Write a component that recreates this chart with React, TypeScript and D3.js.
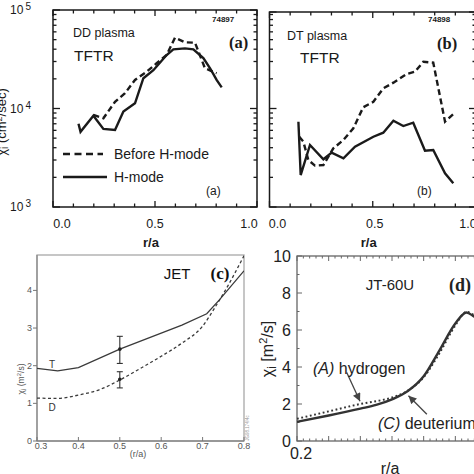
import React from 'react';
import * as d3 from 'd3';

// ---------- Panel (a): TFTR DD plasma (shot 74897) ----------
const aHR = [0.125, 0.135, 0.198, 0.247, 0.304, 0.345, 0.402, 0.443, 0.492, 0.557, 0.59, 0.647, 0.688, 0.737, 0.77, 0.802, 0.827];
const aHChi = [7000, 5800, 8450, 6200, 6050, 9300, 11300, 20300, 24500, 34900, 39800, 40800, 39800, 32500, 25600, 19500, 16400];
const aBR = [0.198, 0.247, 0.304, 0.353, 0.402, 0.459, 0.508, 0.557, 0.598, 0.647, 0.696, 0.745, 0.802];
const aBChi = [8600, 7950, 11700, 14300, 19500, 23600, 28800, 34900, 52400, 47000, 46600, 25600, 22800];

// ---------- Panel (b): TFTR DT plasma (shot 74898) ----------
const bHR = [0.14, 0.151, 0.196, 0.261, 0.301, 0.358, 0.414, 0.503, 0.551, 0.6, 0.648, 0.696, 0.753, 0.793, 0.85, 0.89];
const bHChi = [7340, 2110, 4260, 3050, 3560, 3120, 4090, 5170, 5680, 7510, 6640, 7180, 3730, 3790, 2200, 1740];
const bBR = [0.144, 0.164, 0.188, 0.22, 0.261, 0.309, 0.358, 0.406, 0.454, 0.503, 0.551, 0.6, 0.664, 0.705, 0.745, 0.793, 0.85, 0.89];
const bBChi = [5170, 4600, 3000, 2630, 2670, 3940, 4790, 6300, 10300, 11700, 16000, 18300, 22400, 23650, 29850, 29200, 7350, 8790];

// ---------- Panel (c): JET ----------
const cTR = [0.3, 0.35, 0.4, 0.5, 0.65, 0.71, 0.74, 0.8];
const cTChi = [1.93, 1.86, 1.95, 2.44, 3.08, 3.38, 3.74, 4.52];
const cDR = [0.3, 0.35, 0.4, 0.45, 0.5, 0.55, 0.6, 0.65, 0.7, 0.73, 0.76, 0.8];
const cDChi = [1.14, 1.13, 1.22, 1.36, 1.62, 1.93, 2.25, 2.6, 3.05, 3.55, 4.1, 4.92];
const cErrR = [0.5, 0.5];
const cErrMid = [2.44, 1.64];
const cErrLo = [2.06, 1.41];
const cErrHi = [2.78, 1.84];
const cYTicks = [0, 1, 2, 3, 4];
const cXTicks = [0.3, 0.4, 0.5, 0.6, 0.7, 0.8];

// ---------- Panel (d): JT-60U ----------
const dDR = [0.2, 0.3, 0.4, 0.45, 0.5, 0.55, 0.6, 0.65, 0.7, 0.735, 0.76, 0.8];
const dDChi = [1.04, 1.38, 1.75, 1.95, 2.25, 2.7, 3.5, 4.9, 6.35, 6.95, 6.72, 6.4];
const dHR = [0.2, 0.3, 0.4, 0.45, 0.5, 0.55, 0.6, 0.65, 0.7, 0.735, 0.76, 0.8];
const dHChi = [1.2, 1.6, 2.0, 2.15, 2.35, 2.72, 3.45, 4.75, 6.25, 6.98, 6.8, 6.5];
const dYTicks = [0, 2, 4, 6, 8, 10];
const dXLabels = [0.2, 0.8];

const topXLabels = [0, 0.5, 1];

const SANS = "'Liberation Sans', Arial, Helvetica, sans-serif";
const SERIF = "'Liberation Serif', 'Times New Roman', serif";

const zip = (a: number[], b: number[]) => a.map((v, i) => [v, b[i]] as [number, number]);

function LogPanel(props: {
  x0: number; x1: number; yTop: number; hR: number[]; hChi: number[]; bR: number[]; bChi: number[];
  showYLabels: boolean; labelOffsets: number[];
}) {
  const { x0, x1, yTop, hR, hChi, bR, bChi, showYLabels, labelOffsets } = props;
  const x = d3.scaleLinear().domain([0, 1]).range([x0, x1]);
  const y = d3.scaleLog().domain([1e3, 1e5]).range([207, 10]);
  const yB = 207;
  const line = d3.line<[number, number]>().x(d => x(d[0])).y(d => y(d[1]));
  const xt = d3.range(0, 11).map(i => i / 10);
  const yt: { v: number; major: boolean }[] = [];
  [3, 4].forEach(p => { for (let k = 1; k <= 9; k++) yt.push({ v: k * Math.pow(10, p), major: k === 1 }); });
  yt.push({ v: 1e5, major: true });
  const ink = '#1a1a1a';
  return (
    <g>
      <rect x={x0} y={yTop} width={x1 - x0} height={yB - yTop} fill="none" stroke={ink} strokeWidth={1.5} />
      {xt.map((t, i) => {
        const major = i % 5 === 0;
        const L = major ? 6 : 3.5;
        return (
          <g key={'xt' + i}>
            <line x1={x(t)} x2={x(t)} y1={yB} y2={yB - L} stroke={ink} strokeWidth={1.3} />
            <line x1={x(t)} x2={x(t)} y1={yTop} y2={yTop + L} stroke={ink} strokeWidth={1.3} />
          </g>
        );
      })}
      {yt.map((t, i) => {
        const L = t.major ? 7 : 3.5;
        const yy = t.v === 1e5 ? yTop : y(t.v);
        return (
          <g key={'yt' + i}>
            <line x1={x0} x2={x0 + L} y1={yy} y2={yy} stroke={ink} strokeWidth={1.3} />
            <line x1={x1} x2={x1 - L} y1={yy} y2={yy} stroke={ink} strokeWidth={1.3} />
          </g>
        );
      })}
      {topXLabels.map((t, i) => (
        <text key={'xl' + i} x={x(t) + labelOffsets[i]} y={228} textAnchor="middle" fontFamily={SANS} fontSize={12.5} fill={ink}>
          {t.toFixed(1)}
        </text>
      ))}
      <text x={(x0 + x1) / 2 - 4} y={247} textAnchor="middle" fontFamily={SANS} fontSize={13} fontWeight="bold" fill={ink}>r/a</text>
      {showYLabels && [3, 4, 5].map(p => (
        <text key={'yl' + p} x={31} y={(p === 5 ? 10 : y(Math.pow(10, p))) + 4} textAnchor="end" fontFamily={SANS} fontSize={12} fill={ink}>
          10<tspan dx={2} dy={-4} fontSize={10}>{p}</tspan>
        </text>
      ))}
      <path d={line(zip(bR, bChi)) || ''} fill="none" stroke={ink} strokeWidth={2.4} strokeDasharray="6,3.5" />
      <path d={line(zip(hR, hChi)) || ''} fill="none" stroke={ink} strokeWidth={2.4} />
    </g>
  );
}

function PanelC() {
  const x = d3.scaleLinear().domain([0.3, 0.8]).range([37, 244]);
  const y = d3.scaleLinear().domain([0, 4.94]).range([441, 255]);
  const line = d3.line<[number, number]>().x(d => x(d[0])).y(d => y(d[1]));
  const smooth = d3.line<[number, number]>().x(d => x(d[0])).y(d => y(d[1])).curve(d3.curveMonotoneX);
  const frame = '#a8a8a8';
  const txt = '#555';
  return (
    <g>
      <defs>
        <clipPath id="clipC"><rect x={37} y={255} width={207} height={186} /></clipPath>
      </defs>
      <rect x={37} y={255} width={207} height={186} fill="none" stroke={frame} strokeWidth={1.3} />
      <line x1={37} x2={37} y1={255} y2={441} stroke="#888" strokeWidth={1.2} />
      <line x1={37} x2={244} y1={441} y2={441} stroke="#888" strokeWidth={1.4} />
      {cYTicks.map(t => (
        <g key={'cy' + t}>
          <line x1={33} x2={37} y1={y(t)} y2={y(t)} stroke="#777" strokeWidth={1} />
          <text x={32} y={y(t) + 3} textAnchor="end" fontFamily={SANS} fontSize={9} fill={txt}>{t}</text>
        </g>
      ))}
      {cXTicks.map((t, i) => (
        <g key={'cx' + t}>
          <line x1={x(t)} x2={x(t)} y1={441} y2={437} stroke="#777" strokeWidth={1} />
          <text x={x(t) + (i === 0 ? 4 : 0)} y={449} textAnchor="middle" fontFamily={SANS} fontSize={9} fill={txt}>{t.toFixed(1)}</text>
        </g>
      ))}
      <text x={138} y={457} textAnchor="middle" fontFamily={SANS} fontSize={9} fill={txt}>(r/a)</text>
      <text transform="translate(24,379) rotate(-90)" textAnchor="middle" fontFamily={SANS} fontSize={8.5} fill={txt}>
        χ<tspan fontSize={6.5} dy={2}>i</tspan><tspan dy={-2}> (m</tspan><tspan fontSize={6} dy={-3}>2</tspan><tspan dy={3}>/s)</tspan>
      </text>
      <g clipPath="url(#clipC)">
        <path d={line(zip(cTR, cTChi)) || ''} fill="none" stroke="#3a3a3a" strokeWidth={1.3} />
        <path d={smooth(zip(cDR, cDChi)) || ''} fill="none" stroke="#3a3a3a" strokeWidth={1.3} strokeDasharray="3,2.5" />
      </g>
      {cErrR.map((r, i) => (
        <g key={'err' + i} stroke="#333" strokeWidth={1.1}>
          <line x1={x(r)} x2={x(r)} y1={y(cErrLo[i])} y2={y(cErrHi[i])} />
          <line x1={x(r) - 3} x2={x(r) + 3} y1={y(cErrLo[i])} y2={y(cErrLo[i])} />
          <line x1={x(r) - 3} x2={x(r) + 3} y1={y(cErrHi[i])} y2={y(cErrHi[i])} />
          <circle cx={x(r)} cy={y(cErrMid[i])} r={1.8} fill="#222" stroke="none" />
        </g>
      ))}
      <text x={52} y={368} textAnchor="middle" fontFamily={SANS} fontSize={10} fill="#333">T</text>
      <text x={52} y={411} textAnchor="middle" fontFamily={SANS} fontSize={10} fill="#333">D</text>
      <text x={177} y={279} textAnchor="middle" fontFamily={SANS} fontSize={15} fill="#111">JET</text>
      <text x={220} y={279} textAnchor="middle" fontFamily={SERIF} fontSize={17} fontWeight="bold" fill="#111">(c)</text>
      <text transform="translate(249,428) rotate(-90)" textAnchor="middle" fontFamily={SANS} fontSize={4.5} fill="#999">JG98.174/4c</text>
    </g>
  );
}

function PanelD() {
  const x = d3.scaleLinear().domain([0.2, 0.8]).range([297, 487]);
  const y = d3.scaleLinear().domain([0, 10]).range([441, 256]);
  const line = d3.line<[number, number]>().x(d => x(d[0])).y(d => y(d[1])).curve(d3.curveMonotoneX);
  const ink = '#222';
  const frame = '#666';
  const xMinor = d3.range(0, 31).map(i => 0.2 + i * 0.02);
  const yMinor = d3.range(0, 11);
  const arrA = { x1: x(0.357), y1: y(3.7), x2: x(0.399), y2: y(2.15) };
  const arrC = { x1: x(0.61), y1: y(1.45), x2: x(0.552), y2: y(2.45) };
  return (
    <g>
      <defs>
        <marker id="ah" viewBox="0 0 10 10" refX={10} refY={5} markerWidth={10} markerHeight={8} markerUnits="userSpaceOnUse" orient="auto">
          <path d="M0,0 L10,5 L0,10 z" fill="#444" />
        </marker>
      </defs>
      <rect x={297} y={256} width={190} height={185} fill="none" stroke={frame} strokeWidth={1.3} />
      {xMinor.map((t, i) => {
        const L = i % 5 === 0 ? 5 : 2.5;
        return (
          <g key={'dx' + i}>
            <line x1={x(t)} x2={x(t)} y1={441} y2={441 - L} stroke={frame} strokeWidth={1} />
            <line x1={x(t)} x2={x(t)} y1={256} y2={256 + L} stroke={frame} strokeWidth={1} />
          </g>
        );
      })}
      {yMinor.map(t => {
        const L = t % 2 === 0 ? 5 : 2.5;
        return <line key={'dy' + t} x1={297} x2={297 + L} y1={y(t)} y2={y(t)} stroke={frame} strokeWidth={1} />;
      })}
      {dYTicks.map(t => (
        <text key={'dyl' + t} x={291} y={y(t) + 6} textAnchor="end" fontFamily={SANS} fontSize={16} fill={ink}>{t}</text>
      ))}
      {dXLabels.map(t => (
        <text key={'dxl' + t} x={x(t) + 4} y={459} textAnchor="middle" fontFamily={SANS} fontSize={16} fill={ink}>{t.toFixed(1)}</text>
      ))}
      <text x={390} y={474} textAnchor="middle" fontFamily={SANS} fontSize={16} fill={ink}>r/a</text>
      <text transform="translate(273,349) rotate(-90)" textAnchor="middle" fontFamily={SANS} fontSize={16} fill={ink}>
        χ<tspan fontSize={12} dy={3}>i</tspan><tspan dy={-3}> [m</tspan><tspan fontSize={11} dy={-6}>2</tspan><tspan dy={6}>/s]</tspan>
      </text>
      <path d={line(zip(dHR, dHChi)) || ''} fill="none" stroke="#333" strokeWidth={2} strokeDasharray="1.8,2.6" />
      <path d={line(zip(dDR, dDChi)) || ''} fill="none" stroke="#333" strokeWidth={2.4} />
      <line {...arrA} stroke="#444" strokeWidth={1.3} markerEnd="url(#ah)" />
      <line {...arrC} stroke="#444" strokeWidth={1.3} markerEnd="url(#ah)" />
      <text x={313} y={374} fontFamily={SANS} fontSize={16} fill={ink}>
        <tspan fontStyle="italic">(A)</tspan> hydrogen
      </text>
      <text x={378} y={429} fontFamily={SANS} fontSize={16} fill={ink}>
        <tspan fontStyle="italic">(C)</tspan> deuterium
      </text>
      <text x={390} y={290} textAnchor="middle" fontFamily={SANS} fontSize={15} fill={ink}>JT-60U</text>
      <text x={449} y={291} fontFamily={SERIF} fontSize={18} fontWeight="bold" fill={ink}>(d)</text>
    </g>
  );
}

export default function App() {
  const ink = '#1a1a1a';
  return (
    <svg width={474} height={474} viewBox="0 0 474 474" style={{ position: 'absolute', left: 0, top: 0, background: '#fff' }}>
      <rect x={0} y={0} width={474} height={474} fill="#fff" />
      <LogPanel x0={53} x1={257} yTop={10} hR={aHR} hChi={aHChi} bR={aBR} bChi={aBChi} showYLabels={true} labelOffsets={[9, 0, -8]} />
      <LogPanel x0={269.5} x1={476} yTop={12} hR={bHR} hChi={bHChi} bR={bBR} bChi={bBChi} showYLabels={false} labelOffsets={[8, 2, -8]} />
      {/* Panel (a) annotations */}
      <text transform="translate(6,122) rotate(-90)" textAnchor="middle" fontFamily={SANS} fontSize={13} fill={ink}>
        χ<tspan fontSize={10} dy={2}>i</tspan><tspan dy={-2}> (cm</tspan><tspan fontSize={9} dy={-4}>2</tspan><tspan dy={4}>/sec)</tspan>
      </text>
      <text x={73} y={37} fontFamily={SANS} fontSize={12.5} fill={ink}>DD plasma</text>
      <text x={74} y={61} fontFamily={SANS} fontSize={15.5} fill={ink}>TFTR</text>
      <text x={212} y={22} fontFamily={SANS} fontSize={8} fontWeight="bold" fill={ink}>74897</text>
      <text x={229} y={48} fontFamily={SERIF} fontSize={16.5} fontWeight="bold" fill={ink}>(a)</text>
      <text x={206} y={195} fontFamily={SANS} fontSize={12} fill={ink}>(a)</text>
      <line x1={63} x2={103} y1={154} y2={154} stroke={ink} strokeWidth={2.4} strokeDasharray="7,4.5" />
      <text x={114} y={159} fontFamily={SANS} fontSize={14} fill={ink}>Before H-mode</text>
      <line x1={63} x2={107} y1={177} y2={177} stroke={ink} strokeWidth={2.4} />
      <text x={114} y={182} fontFamily={SANS} fontSize={14} fill={ink}>H-mode</text>
      {/* Panel (b) annotations */}
      <text x={287} y={40} fontFamily={SANS} fontSize={12.5} fill={ink}>DT plasma</text>
      <text x={300} y={63} fontFamily={SANS} fontSize={15.5} fill={ink}>TFTR</text>
      <text x={428} y={22} fontFamily={SANS} fontSize={8} fontWeight="bold" fill={ink}>74898</text>
      <text x={437} y={49} fontFamily={SERIF} fontSize={16.5} fontWeight="bold" fill={ink}>(b)</text>
      <text x={417} y={195} fontFamily={SANS} fontSize={12} fill={ink}>(b)</text>
      <PanelC />
      <PanelD />
    </svg>
  );
}
